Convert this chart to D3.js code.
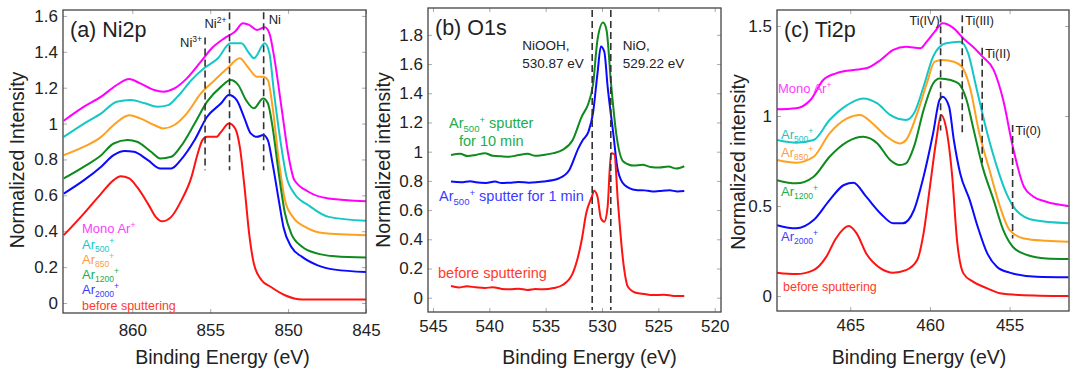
<!DOCTYPE html>
<html>
<head>
<meta charset="utf-8">
<script src="https://cdn.jsdelivr.net/npm/d3@7.9.0/dist/d3.min.js"></script>
<style>
  body { margin: 0; background: #fff; }
  svg { display: block; font-family: "Liberation Sans", Arial, sans-serif; }
</style>
</head>
<body>
<div id="viz"></div>
<script>
// ---- data (binding energy eV, normalized intensity) ----
// (a) Ni2p
const niMono = [[864.4,1.016],[863.1,1.094],[862.0,1.15],[861.0,1.215],[860.2,1.248],[859.5,1.224],[858.6,1.187],[858.0,1.178],[857.3,1.196],[856.5,1.252],[855.6,1.345],[854.9,1.42],[854.1,1.475],[853.4,1.513],[852.9,1.559],[852.5,1.55],[852.0,1.522],[851.5,1.537],[851.2,1.503],[850.9,1.373],[850.4,1.075],[850.0,0.833],[849.6,0.685],[848.7,0.62],[847.4,0.582],[845.0,0.567]];
const ni500 = [[864.4,0.926],[863.1,1.0],[862.0,1.057],[861.0,1.122],[860.1,1.131],[859.2,1.113],[858.4,1.094],[857.7,1.103],[857.1,1.15],[856.2,1.243],[855.4,1.308],[854.5,1.364],[853.7,1.447],[853.0,1.447],[852.5,1.392],[852.2,1.364],[851.5,1.447],[851.2,1.392],[850.9,1.168],[850.5,0.908],[850.1,0.703],[849.6,0.61],[848.7,0.545],[847.4,0.48],[845.0,0.458]];
const ni850 = [[864.4,0.824],[863.1,0.871],[862.0,0.926],[861.2,0.992],[860.2,1.047],[859.5,1.029],[858.6,0.992],[858.0,0.973],[857.3,0.992],[856.5,1.057],[855.6,1.168],[854.7,1.243],[853.9,1.308],[853.1,1.364],[852.6,1.317],[852.0,1.261],[851.6,1.261],[851.3,1.243],[851.0,1.094],[850.6,0.796],[850.2,0.573],[849.7,0.48],[848.9,0.424],[847.8,0.39],[845.0,0.378]];
const ni1200 = [[864.4,0.694],[863.1,0.76],[862.0,0.824],[861.2,0.889],[860.3,0.908],[859.7,0.899],[858.8,0.843],[858.2,0.806],[857.5,0.815],[856.9,0.871],[856.0,1.0],[855.2,1.122],[854.3,1.206],[853.7,1.243],[853.2,1.215],[852.7,1.131],[852.2,1.085],[851.6,1.14],[851.3,1.113],[851.0,0.982],[850.6,0.722],[850.2,0.499],[849.8,0.387],[849.1,0.313],[848.1,0.275],[847.0,0.26],[845.0,0.253]];
const ni2000 = [[864.4,0.61],[863.1,0.685],[862.0,0.76],[861.2,0.824],[860.5,0.847],[859.9,0.843],[859.0,0.796],[858.2,0.75],[857.5,0.75],[856.9,0.796],[856.0,0.908],[855.2,1.038],[854.3,1.113],[853.8,1.159],[853.3,1.131],[852.8,1.029],[852.4,0.945],[852.0,0.926],[851.6,0.936],[851.3,0.908],[851.0,0.778],[850.6,0.573],[850.3,0.424],[849.8,0.313],[849.1,0.257],[848.1,0.21],[847.0,0.186],[845.0,0.173]];
const niBefore = [[864.4,0.378],[863.1,0.5],[862.0,0.61],[861.2,0.685],[860.75,0.707],[860.2,0.694],[859.7,0.647],[859.0,0.554],[858.5,0.48],[858.1,0.455],[857.5,0.48],[856.9,0.564],[856.2,0.703],[855.8,0.833],[855.5,0.908],[855.2,0.926],[854.6,0.926],[854.3,0.954],[853.8,1.0],[853.4,0.973],[853.1,0.87],[852.8,0.647],[852.5,0.387],[852.2,0.22],[851.7,0.127],[851.1,0.089],[850.2,0.043],[849.1,0.019],[847.0,0.019],[845.0,0.019]];
const niRefs = [{label: "Ni", sup: "3+", e: 855.33, lo: 0.74, hi: 1.48},
                {label: "Ni", sup: "2+", e: 853.76, lo: 0.74, hi: 1.62},
                {label: "Ni", sup: "", e: 851.57, lo: 0.74, hi: 1.62}];

// (b) O1s
const oAr10 = [[543.4,0.978],[542.6,0.985],[541.9,0.97],[541.2,0.978],[540.4,0.99],[539.7,0.972],[538.9,0.968],[538.2,0.966],[537.5,0.975],[536.6,0.985],[535.9,0.972],[535.2,0.978],[534.3,0.99],[533.5,1.012],[532.6,1.08],[531.8,1.24],[531.2,1.332],[530.8,1.457],[530.4,1.766],[529.9,1.884],[529.6,1.834],[529.2,1.469],[528.7,1.103],[528.1,0.932],[527.2,0.905],[526.4,0.91],[525.7,0.895],[524.9,0.891],[524.1,0.898],[523.4,0.884],[522.7,0.9]];
const oAr1 = [[543.4,0.795],[542.5,0.79],[541.7,0.798],[541.2,0.79],[540.3,0.785],[539.5,0.795],[538.9,0.785],[538.2,0.788],[537.4,0.792],[536.5,0.788],[535.2,0.795],[533.8,0.818],[532.9,0.875],[532.1,1.023],[531.7,1.08],[531.2,1.137],[530.8,1.263],[530.4,1.537],[530.1,1.72],[529.8,1.686],[529.5,1.446],[529.0,1.126],[528.6,0.875],[528.0,0.772],[527.0,0.738],[526.2,0.735],[525.5,0.728],[524.9,0.731],[524.0,0.735],[523.3,0.728],[522.7,0.731]];
const oBefore = [[543.4,0.08],[542.7,0.07],[542.0,0.078],[541.2,0.071],[540.4,0.066],[539.7,0.072],[538.9,0.06],[538.2,0.057],[537.4,0.062],[536.6,0.053],[535.9,0.06],[535.2,0.057],[534.3,0.066],[533.5,0.087],[532.6,0.167],[531.8,0.395],[531.4,0.578],[530.9,0.692],[530.7,0.733],[530.4,0.692],[530.1,0.544],[529.8,0.52],[529.5,0.624],[529.2,0.99],[528.9,0.984],[528.6,0.669],[528.1,0.235],[527.7,0.075],[527.0,0.034],[526.2,0.025],[525.5,0.018],[524.5,0.02],[523.6,0.012],[522.7,0.011]];
const oRefs = [{e: 530.87, lines: ["NiOOH,", "530.87 eV"], side: "left"},
               {e: 529.22, lines: ["NiO,", "529.22 eV"], side: "right"}];

// (c) Ti2p
const tiMono = [[469.6,1.037],[468.4,1.043],[467.5,1.089],[466.7,1.2],[465.9,1.237],[464.8,1.256],[464.0,1.265],[463.1,1.311],[462.3,1.367],[461.5,1.385],[460.6,1.376],[460.2,1.413],[459.7,1.469],[459.2,1.515],[458.5,1.487],[457.9,1.431],[457.3,1.385],[456.7,1.33],[456.0,1.256],[455.4,1.089],[454.8,0.83],[454.1,0.607],[453.5,0.552],[452.7,0.524],[451.3,0.5]];
const ti500 = [[469.6,0.867],[468.4,0.852],[467.3,0.867],[466.3,0.978],[465.2,1.061],[464.2,1.098],[463.3,1.07],[462.5,1.006],[461.5,0.978],[461.0,1.015],[460.4,1.163],[459.8,1.33],[459.0,1.404],[458.1,1.413],[457.6,1.348],[457.1,1.163],[456.4,0.904],[455.8,0.719],[455.2,0.57],[454.6,0.478],[453.5,0.422],[451.3,0.404]];
const ti850 = [[469.6,0.756],[468.4,0.741],[467.3,0.774],[466.3,0.904],[465.2,0.987],[464.4,1.006],[463.6,0.959],[462.7,0.885],[461.9,0.848],[461.5,0.867],[460.8,1.015],[460.2,1.181],[459.7,1.302],[459.2,1.311],[458.5,1.302],[458.0,1.274],[457.5,1.163],[456.9,0.904],[456.2,0.681],[455.6,0.496],[455.0,0.367],[454.1,0.32],[452.7,0.307],[451.3,0.302]];
const ti1200 = [[469.6,0.644],[468.4,0.626],[467.3,0.663],[466.3,0.774],[465.2,0.857],[464.2,0.885],[463.3,0.848],[462.5,0.756],[461.9,0.728],[461.5,0.737],[461.0,0.83],[460.4,1.033],[459.8,1.181],[459.4,1.209],[458.7,1.2],[458.2,1.181],[457.7,1.089],[457.3,0.941],[456.7,0.719],[456.0,0.533],[455.4,0.367],[454.8,0.274],[453.9,0.228],[452.7,0.209],[451.3,0.206]];
const ti2000 = [[469.6,0.394],[468.4,0.376],[467.3,0.422],[466.3,0.533],[465.4,0.617],[464.8,0.63],[464.0,0.552],[463.1,0.459],[462.3,0.404],[461.7,0.404],[461.0,0.478],[460.4,0.663],[459.8,0.904],[459.4,1.089],[459.2,1.107],[458.8,1.052],[458.5,0.867],[458.1,0.681],[457.5,0.533],[457.0,0.385],[456.4,0.237],[455.8,0.163],[455.0,0.13],[453.3,0.107],[451.3,0.104]];
const tiBefore = [[469.6,0.13],[468.4,0.122],[467.3,0.144],[466.5,0.219],[465.9,0.32],[465.1,0.389],[464.6,0.348],[464.0,0.237],[463.1,0.154],[462.3,0.13],[461.5,0.144],[460.8,0.2],[460.4,0.348],[460.0,0.607],[459.6,0.867],[459.3,1.006],[459.0,0.941],[458.6,0.663],[458.3,0.311],[457.9,0.126],[457.3,0.08],[456.4,0.043],[455.6,0.015],[454.4,0.006],[451.3,0.0]];
const tiRefs = [{label: "Ti(IV)", e: 459.33, lo: 0.92, hi: 1.56, anchor: "end"},
                {label: "Ti(III)", e: 457.97, lo: 0.91, hi: 1.56, anchor: "start"},
                {label: "Ti(II)", e: 456.72, lo: 0.74, hi: 1.38, anchor: "start"},
                {label: "Ti(0)", e: 454.81, lo: 0.32, hi: 0.95, anchor: "start"}];

// tick values
const niXTicks = [860, 855, 850, 845];
const niYTicks = [0, 0.2, 0.4, 0.6, 0.8, 1, 1.2, 1.4, 1.6];
const oXTicks = [545, 540, 535, 530, 525, 520];
const oYTicks = [0, 0.2, 0.4, 0.6, 0.8, 1, 1.2, 1.4, 1.6, 1.8];
const tiXTicks = [465, 460, 455];
const tiYTicks = [0, 0.5, 1, 1.5];

const lineCol = {mono: "#ff00ff", a500: "#16c6c6", a850: "#ffa01e", a1200: "#0e8a1e", a2000: "#0a0aff", before: "#ff1212"};
const textCol = {mono: "#ff3cff", a500: "#20c4c4", a850: "#ff9a45", a1200: "#20ad4c", a2000: "#3b3bff", before: "#ff3b2b"};

const svg = d3.select("#viz").append("svg").attr("width", 1080).attr("height", 377);

function makePanel(o) {
  const x = d3.scaleLinear().domain(o.xd).range([o.l, o.r]);
  const y = d3.scaleLinear().domain(o.yd).range([o.b, o.t]);
  const g = svg.append("g");

  // inward ticks on all sides
  const tk = (sel) => { sel.select(".domain").remove(); sel.selectAll(".tick line").attr("stroke", "#aaa"); };
  g.append("g").attr("transform", `translate(0,${o.b})`)
    .call(d3.axisBottom(x).tickValues(o.xt).tickSize(-4).tickPadding(o.xpad).tickFormat(d3.format("d")))
    .call(tk).selectAll("text").attr("font-size", 17).attr("fill", "#222");
  g.append("g").attr("transform", `translate(0,${o.t})`)
    .call(d3.axisTop(x).tickValues(o.xt).tickSize(-4).tickFormat("")).call(tk);
  g.append("g").attr("transform", `translate(${o.l},0)`)
    .call(d3.axisLeft(y).tickValues(o.yt).tickSize(-4).tickPadding(5).tickFormat(d => d3.format("~g")(d)))
    .call(tk).selectAll("text").attr("font-size", 17).attr("fill", "#222");
  g.append("g").attr("transform", `translate(${o.r},0)`)
    .call(d3.axisRight(y).tickValues(o.yt).tickSize(-4).tickFormat("")).call(tk);
  g.selectAll("g").attr("font-family", null);

  const clip = "clip" + o.id;
  svg.append("clipPath").attr("id", clip).append("rect")
    .attr("x", o.l).attr("y", o.t).attr("width", o.r - o.l).attr("height", o.b - o.t);

  const line = d3.line().x(d => x(d[0])).y(d => y(d[1])).curve(d3.curveMonotoneX);
  o.series.forEach(s => {
    g.append("path").datum(s.data).attr("clip-path", `url(#${clip})`)
      .attr("fill", "none").attr("stroke", s.color).attr("stroke-width", 2)
      .attr("stroke-linejoin", "round").attr("d", line);
  });

  g.append("rect").attr("x", o.l).attr("y", o.t).attr("width", o.r - o.l).attr("height", o.b - o.t)
    .attr("fill", "none").attr("stroke", "#444").attr("stroke-width", 1.3);

  g.append("text").attr("x", o.l + 7).attr("y", o.t + 27).attr("font-size", 21.5).attr("fill", "#222").text(o.title);
  g.append("text").attr("x", (o.l + o.r) / 2 + o.xlOff).attr("y", 364).attr("text-anchor", "middle")
    .attr("font-size", 19.5).attr("fill", "#222").text("Binding Energy (eV)");
  g.append("text").attr("transform", `translate(${o.ylx},${o.yly}) rotate(-90)`).attr("text-anchor", "middle")
    .attr("font-size", 19.5).attr("fill", "#222").text(o.ylabel);
  return {g, x, y};
}

function dashed(p, e, lo, hi) {
  p.g.append("line").attr("x1", p.x(e)).attr("x2", p.x(e)).attr("y1", p.y(hi)).attr("y2", p.y(lo))
    .attr("stroke", "#333").attr("stroke-width", 1.6).attr("stroke-dasharray", "7,4");
}

// text with optional subscript / superscript parts
function richText(g, x, y, parts, color, size, anchor) {
  const t = g.append("text").attr("x", x).attr("y", y).attr("font-size", size).attr("fill", color)
    .attr("text-anchor", anchor || "start");
  let shift = 0;
  parts.forEach(p => {
    const target = p.sub ? size * 0.25 : p.sup ? -size * 0.35 : 0;
    t.append("tspan").attr("dy", target - shift).attr("font-size", p.sub || p.sup ? size * 0.66 : size).text(p.t);
    shift = target;
  });
  return t;
}

// (a) Ni2p
const pa = makePanel({id: "a", l: 63, r: 366, t: 10, b: 313, xd: [864.45, 845.0], yd: [-0.0557, 1.633],
  xt: niXTicks, yt: niYTicks, xpad: 11, title: "(a) Ni2p", ylabel: "Normalized Intensity", ylx: 24, yly: 160, xlOff: 8,
  series: [{data: niMono, color: lineCol.mono}, {data: ni500, color: lineCol.a500}, {data: ni850, color: lineCol.a850},
           {data: ni1200, color: lineCol.a1200}, {data: ni2000, color: lineCol.a2000}, {data: niBefore, color: lineCol.before}]});
niRefs.forEach(r => dashed(pa, r.e, r.lo, r.hi));
richText(pa.g, pa.x(niRefs[0].e) - 3, 47, [{t: "Ni"}, {t: "3+", sup: true}], "#222", 13, "end");
richText(pa.g, pa.x(niRefs[1].e) - 3, 28, [{t: "Ni"}, {t: "2+", sup: true}], "#222", 13, "end");
richText(pa.g, pa.x(niRefs[2].e) + 5, 24, [{t: "Ni"}], "#222", 13);
richText(pa.g, 82, 233, [{t: "Mono Ar"}, {t: "+", sup: true}], textCol.mono, 13);
richText(pa.g, 82, 249, [{t: "Ar"}, {t: "500", sub: true}, {t: "+", sup: true}], textCol.a500, 13);
richText(pa.g, 82, 264, [{t: "Ar"}, {t: "850", sub: true}, {t: "+", sup: true}], textCol.a850, 13);
richText(pa.g, 82, 279, [{t: "Ar"}, {t: "1200", sub: true}, {t: "+", sup: true}], textCol.a1200, 13);
richText(pa.g, 82, 294, [{t: "Ar"}, {t: "2000", sub: true}, {t: "+", sup: true}], textCol.a2000, 13);
richText(pa.g, 82, 310, [{t: "before sputtering"}], textCol.before, 12.5);

// (b) O1s
const pb = makePanel({id: "b", l: 428, r: 721, t: 8, b: 312, xd: [545.44, 519.44], yd: [-0.098, 1.984],
  xt: oXTicks, yt: oYTicks, xpad: 8, title: "(b) O1s", ylabel: "Normalized intensity", ylx: 390, yly: 160, xlOff: 15,
  series: [{data: oAr10, color: lineCol.a1200}, {data: oAr1, color: lineCol.a2000}, {data: oBefore, color: lineCol.before}]});
oRefs.forEach(r => dashed(pb, r.e, -0.085, 1.97));
oRefs.forEach(r => {
  const xx = r.side === "left" ? pb.x(r.e) - 70 : pb.x(r.e) + 12;
  richText(pb.g, xx, 50, [{t: r.lines[0]}], "#222", 13.5);
  richText(pb.g, xx, 68, [{t: r.lines[1]}], "#222", 13.5);
});
richText(pb.g, 449, 128, [{t: "Ar"}, {t: "500", sub: true}, {t: "+", sup: true}, {t: " sputter"}], textCol.a1200, 14.5);
richText(pb.g, 459, 146, [{t: "for 10 min"}], textCol.a1200, 14.5);
richText(pb.g, 439, 201, [{t: "Ar"}, {t: "500", sub: true}, {t: "+", sup: true}, {t: " sputter for 1 min"}], textCol.a2000, 14.5);
richText(pb.g, 438, 278, [{t: "before sputtering"}], textCol.before, 14.5);

// (c) Ti2p
const pc = makePanel({id: "c", l: 777, r: 1069, t: 10, b: 311, xd: [469.6, 451.27], yd: [-0.083, 1.589],
  xt: tiXTicks, yt: tiYTicks, xpad: 8, title: "(c) Ti2p", ylabel: "Normalized intensity", ylx: 745, yly: 162, xlOff: -4,
  series: [{data: tiMono, color: lineCol.mono}, {data: ti500, color: lineCol.a500}, {data: ti850, color: lineCol.a850},
           {data: ti1200, color: lineCol.a1200}, {data: ti2000, color: lineCol.a2000}, {data: tiBefore, color: lineCol.before}]});
tiRefs.forEach(r => {
  dashed(pc, r.e, r.lo, r.hi);
  const xx = r.anchor === "end" ? pc.x(r.e) - 1 : pc.x(r.e) + 3;
  richText(pc.g, xx, pc.y(r.hi) + 10, [{t: r.label}], "#222", 12.5, r.anchor);
});
richText(pc.g, 778, 93, [{t: "Mono Ar"}, {t: "+", sup: true}], textCol.mono, 13);
richText(pc.g, 781, 139, [{t: "Ar"}, {t: "500", sub: true}, {t: "+", sup: true}], textCol.a500, 13);
richText(pc.g, 781, 157, [{t: "Ar"}, {t: "850", sub: true}, {t: "+", sup: true}], textCol.a850, 13);
richText(pc.g, 781, 196, [{t: "Ar"}, {t: "1200", sub: true}, {t: "+", sup: true}], textCol.a1200, 13);
richText(pc.g, 781, 241, [{t: "Ar"}, {t: "2000", sub: true}, {t: "+", sup: true}], textCol.a2000, 13);
richText(pc.g, 783, 291, [{t: "before sputtering"}], textCol.before, 12.5);
</script>
</body>
</html>
